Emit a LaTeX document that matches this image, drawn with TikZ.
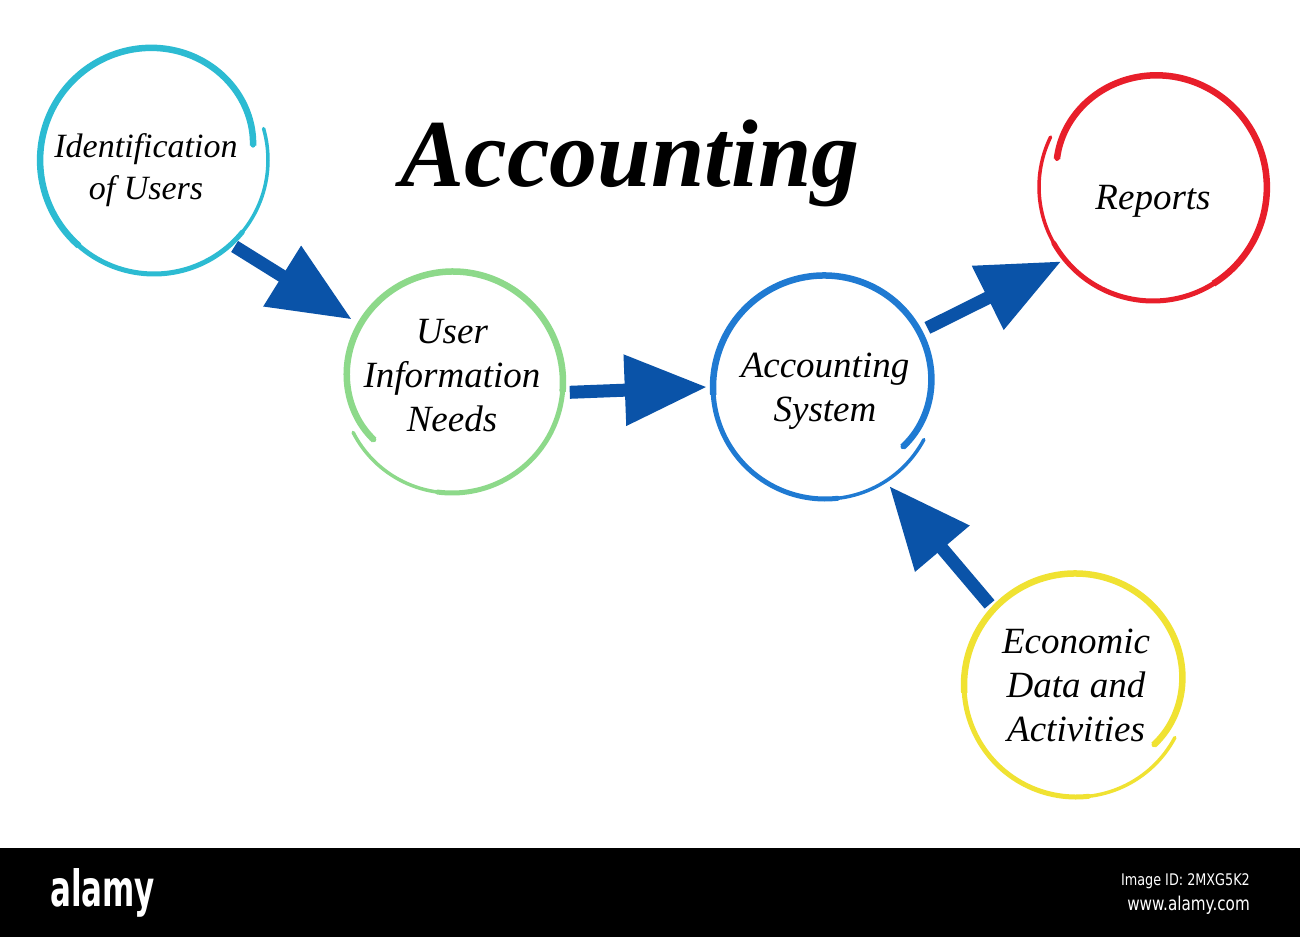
\documentclass[tikz,border=0pt]{standalone}
\usepackage{fontspec}
\setmainfont{Liberation Serif}
\newfontfamily\wmfont[FakeStretch=0.62]{DejaVu Sans}
\newfontfamily\wmsmall[FakeStretch=0.8]{DejaVu Sans}
\usetikzlibrary{arrows.meta}
\definecolor{cyanring}{HTML}{2CBBD2}
\definecolor{greenring}{HTML}{8DD98A}
\definecolor{bluering}{HTML}{1F7AD2}
\definecolor{redring}{HTML}{E81E2A}
\definecolor{yellowring}{HTML}{F0E232}
\definecolor{arrowblue}{HTML}{0A53A8}
\tikzset{
  ring/.style={circle, minimum size=236pt, inner sep=0pt},
  ringtext/.style={align=center, inner sep=0pt,
    font=\fontsize{37}{44}\selectfont\itshape},
  flow/.style={draw=arrowblue, line width=13pt, -{Triangle[length=82pt,width=68pt]}},
}
\newcommand\brushring[5]{%
  \begin{scope}[shift={(#1)}]
    \draw[#2, line width=3.5pt, line cap=round] plot[domain=0:1, samples=160, variable=\u]
      ({(#5+4-14*(\u)^8)*cos(#3+#4*\u)}, {(#5+4-14*(\u)^8)*sin(#3+#4*\u)});
    \draw[#2, line width=5pt, line cap=round] plot[domain=0.15:1, samples=140, variable=\u]
      ({(#5+4-14*(\u)^8)*cos(#3+#4*\u)}, {(#5+4-14*(\u)^8)*sin(#3+#4*\u)});
    \draw[#2, line width=6.5pt] plot[domain=0.4:1, samples=120, variable=\u]
      ({(#5+4-14*(\u)^8)*cos(#3+#4*\u)}, {(#5+4-14*(\u)^8)*sin(#3+#4*\u)});
  \end{scope}}
\begin{document}
\begin{tikzpicture}[x=1pt, y=-1pt]
\useasboundingbox (0,0) rectangle (1300,937);
\fill[white] (0,0) rectangle (1300,937);

\node[font=\fontsize{96}{100}\selectfont\bfseries\itshape] (title) at (630,163) {Accounting};

\node[ring] (c1) at (154,160) {};
\node[ring] (c2) at (452,382) {};
\node[ring] (c3) at (825,387) {};
\node[ring] (c4) at (1153,187) {};
\node[ring] (c5) at (1076,685) {};

\brushring{c1}{cyanring}{-16}{368}{110}
\brushring{c2}{greenring}{153}{-370}{107}
\brushring{c3}{bluering}{28}{370}{108}
\brushring{c4}{redring}{206}{-370}{110}
\brushring{c5}{yellowring}{28}{370}{108}

\node[ringtext, font=\fontsize{34}{42}\selectfont\itshape, xshift=-8pt, yshift=-10pt] (t1) at (c1) {Identification\\of Users};
\node[ringtext, yshift=6pt] (t2) at (c2) {User\\Information\\Needs};
\node[ringtext, yshift=-4pt] (t3) at (c3) {Accounting\\System};
\node[ringtext, yshift=-14pt] (t4) at (c4) {Reports};
\node[ringtext] (t5) at (c5) {Economic\\Data and\\Activities};

\draw[flow] (c1.-47) -- (c2.148);
\draw[flow] (c2.-5) -- (c3.180);
\draw[flow] (c3.30) -- (c4.-141);
\draw[flow] (c5.137) -- (c3.-57);

\fill[black] (0,848) rectangle (1300,937);
\node[text=white, font=\wmfont\fontsize{50}{50}\selectfont\bfseries, anchor=base west, inner sep=0pt] (logo) at (50,906) {alamy};
\node[text=white, font=\wmsmall\fontsize{16}{16}\selectfont, anchor=base east, inner sep=0pt] (imgid) at (1250,885) {Image ID: 2MXG5K2};
\node[text=white, font=\wmsmall\fontsize{19}{19}\selectfont, anchor=base east, inner sep=0pt] (www) at (1250,910) {www.alamy.com};
\end{tikzpicture}
\end{document}
